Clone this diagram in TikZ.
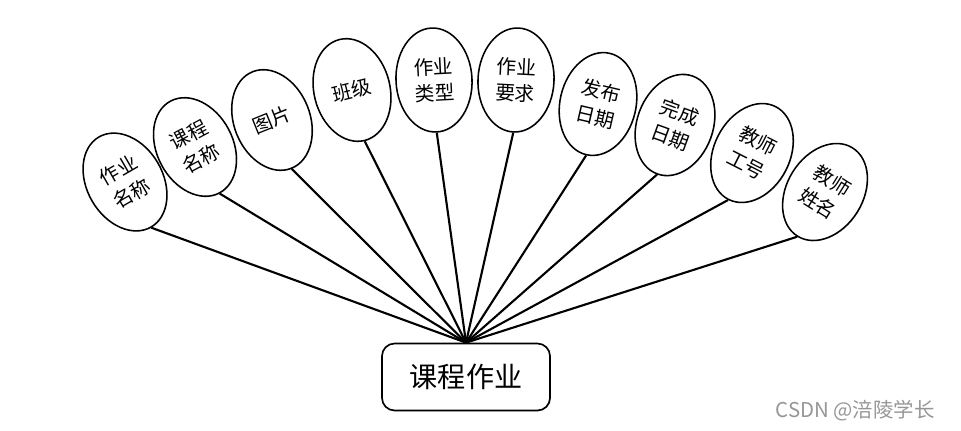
\documentclass[tikz,border=0pt]{standalone}
\usepackage{fontspec}
\usepackage{tikz}
\usetikzlibrary{shapes.geometric, shadows}
\newfontfamily\cjk{Noto Sans CJK SC}
\definecolor{cShadow}{RGB}{190,205,235}
\definecolor{cMark}{RGB}{150,150,150}
\tikzset{
	attr/.style  ={ellipse, draw=black, line width=1.1pt, fill=white, minimum width=1.9cm, minimum height=2.6cm, inner sep=0pt, align=center, font=\cjk\fontsize{14}{19}\selectfont, drop shadow={shadow xshift=0.6pt, shadow yshift=-0.6pt, fill=cShadow, opacity=0.6}},
	entity/.style={rectangle, rounded corners=9pt, draw=black, line width=1.2pt, fill=white, minimum width=4.2cm, minimum height=1.675cm, align=center, font=\cjk\fontsize{20}{24}\selectfont, drop shadow={shadow xshift=0.6pt, shadow yshift=-0.6pt, fill=cShadow, opacity=0.6}},
	link/.style  ={line width=1.5pt},
}
\begin{document}
\begin{tikzpicture}[x=0.025cm, y=-0.025cm]
	\useasboundingbox (0,0) rectangle (961,430);
	% entity
	\node[entity] (hw) at (466,377) {课程作业};
	% attributes
	\node[attr, rotate=30]  (hwName)    at (125,182) {作业\\名称};
	\node[attr, rotate=28]  (courseName) at (195,147) {课程\\名称};
	\node[attr, rotate=22]  (pic)       at (272,120) {图片};
	\node[attr, rotate=14]  (cls)       at (352,90)  {班级};
	\node[attr, rotate=3]   (hwType)    at (434,80)  {作业\\类型};
	\node[attr, rotate=-3]  (hwReq)     at (516,80)  {作业\\要求};
	\node[attr, rotate=-13] (pubDate)   at (598,104) {发布\\日期};
	\node[attr, rotate=-20] (doneDate)  at (675,125) {完成\\日期};
	\node[attr, rotate=-27] (tchId)     at (752,153) {教师\\工号};
	\node[attr, rotate=-32] (tchName)   at (825,192) {教师\\姓名};
	% links
	\draw[link] (hwName.south) -- (hw.north);
	\draw[link] (courseName.south) -- (hw.north);
	\draw[link] (pic.south) -- (hw.north);
	\draw[link] (cls.south) -- (hw.north);
	\draw[link] (hwType.south) -- (hw.north);
	\draw[link] (hwReq.south) -- (hw.north);
	\draw[link] (pubDate.south) -- (hw.north);
	\draw[link] (doneDate.south) -- (hw.north);
	\draw[link] (tchId.south) -- (hw.north);
	\draw[link] (tchName.south) -- (hw.north);
	% watermark
	\node[text=cMark, font=\cjk\fontsize{14.5}{16}\selectfont] (mark) at (855,411) {CSDN @涪陵学长};
\end{tikzpicture}
\end{document}
